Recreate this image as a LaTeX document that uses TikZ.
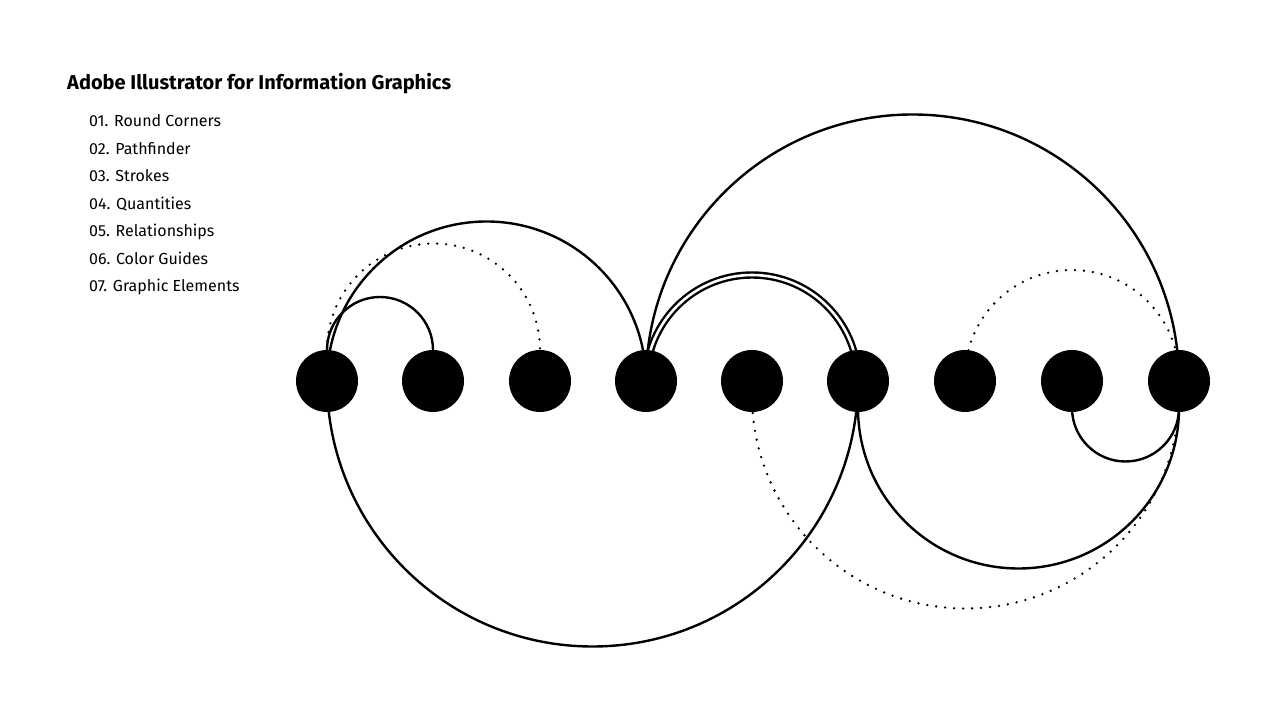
\documentclass[tikz,border=0pt]{standalone}
\usepackage{fontspec}
\setmainfont{Fira Sans}
\usetikzlibrary{calc}
\begin{document}
\begin{tikzpicture}[x=1pt,y=1pt,
  dot/.style={circle,fill=black,minimum size=62pt,inner sep=0pt},
  ln/.style={line width=2.4pt},
  dt/.style={line width=2.6pt,dash pattern=on 0pt off 9pt,line cap=round},
  dbl/.style={line width=2.4pt,double=white,double distance=2.6pt},
  item/.style={anchor=base west,font=\fontsize{16}{18}\selectfont,inner sep=0pt}]
\useasboundingbox (0,0) rectangle (1280,720);
\node[anchor=base west,inner sep=0pt,font=\fontsize{20}{24}\selectfont\bfseries] (title) at (67,630) {Adobe Illustrator for Information Graphics};
\node[item] (i1) at (89,593) {01. Round Corners};
\node[item] (i2) at (89,565.5) {02. Pathfinder};
\node[item] (i3) at (89,538) {03. Strokes};
\node[item] (i4) at (89,510.5) {04. Quantities};
\node[item] (i5) at (89,483) {05. Relationships};
\node[item] (i6) at (89,455.5) {06. Color Guides};
\node[item] (i7) at (89,428) {07. Graphic Elements};
\foreach \i/\x in {1/327,2/433,3/540,4/646,5/752,6/858,7/965,8/1072,9/1179}
  \coordinate (c\i) at (\x,339);
% arcs above
\draw[ln] (c1) arc (180:0:159.5);
\draw[ln] ($(c1)+(0,31)$) arc (180:0:53) -- ($(c2)+(0,31)$);
\draw[dt] ($(c1)+(0,31)$) arc (180:0:106.5);
\draw[ln] (c4) arc (180:0:266.5);
\draw[dbl] (c4) arc (180:0:106);
\draw[dt] ($(c7)+(0,4)$) arc (180:0:107);
% arcs below
\draw[ln] (c1) arc (180:360:265.5);
\draw[ln] ($(c6)+(0,-27)$) arc (180:360:160.5);
\draw[dt] ($(c5)+(0,-14)$) arc (180:360:213.5);
\draw[ln] ($(c8)+(0,-27)$) arc (180:360:53.5);
\foreach \i in {1,...,9} \node[dot] (n\i) at (c\i) {};
\end{tikzpicture}
\end{document}
